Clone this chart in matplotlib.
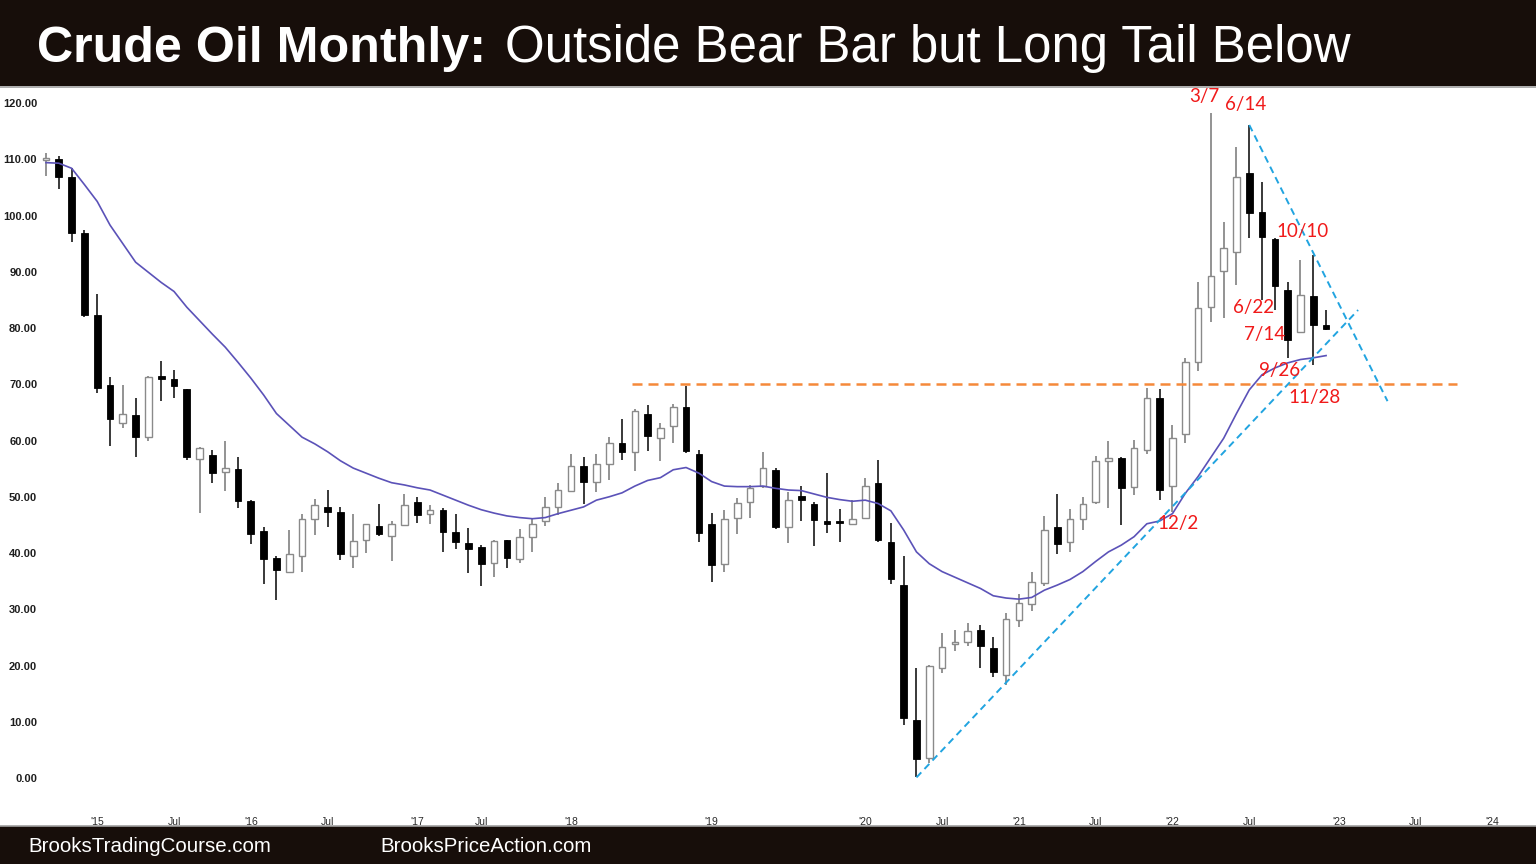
from __future__ import annotations

import matplotlib
import numpy as np

matplotlib.use('Agg')
import matplotlib.pyplot as plt
from matplotlib.lines import Line2D
from matplotlib.patches import Rectangle

# monthly bars, Aug 2014 .. Dec 2022
opens = [
    109.8, 110.1, 106.9, 96.9, 82.3, 69.9, 63.2, 64.5, 60.6, 71.4,
    71.0, 69.1, 56.7, 57.4, 54.4, 55.0, 49.2, 44.0, 39.2, 36.7,
    39.5, 46.0, 48.2, 47.3, 39.5, 42.3, 44.8, 43.0, 45.0, 49.1,
    46.9, 47.7, 43.8, 41.8, 41.1, 38.3, 42.3, 38.9, 42.9, 45.7,
    48.2, 51.0, 55.5, 52.6, 55.9, 59.6, 58.0, 64.7, 60.4, 62.5,
    66.0, 57.6, 45.2, 38.1, 46.3, 49.0, 51.9, 54.8, 44.6, 50.2,
    48.7, 45.7, 45.5, 45.2, 46.3, 52.5, 42.0, 34.4, 10.4, 3.6,
    19.5, 23.8, 24.2, 26.4, 23.2, 18.3, 28.1, 31.0, 34.6, 44.7,
    41.9, 46.1, 49.1, 56.3, 56.9, 51.8, 58.4, 67.5, 51.9, 61.1,
    74.0, 83.8, 90.1, 93.6, 107.6, 100.6, 95.9, 86.8, 79.3, 85.7,
    80.5,
]
highs = [
    111.1, 110.5, 108.5, 97.4, 86.0, 71.3, 69.9, 67.5, 71.4, 74.2,
    72.6, 69.2, 58.8, 58.3, 60.0, 57.0, 49.5, 44.7, 39.5, 44.1,
    46.9, 49.6, 51.2, 48.2, 46.9, 45.2, 48.7, 45.7, 50.5, 50.0,
    48.6, 48.0, 47.0, 44.4, 41.5, 42.4, 42.4, 44.2, 46.0, 49.9,
    52.4, 57.6, 57.0, 57.6, 60.6, 63.8, 65.6, 66.4, 63.1, 66.5,
    69.7, 58.3, 47.1, 47.6, 49.7, 52.1, 58.0, 55.2, 50.9, 52.0,
    49.0, 54.2, 47.9, 49.5, 53.3, 56.6, 45.4, 39.5, 19.5, 20.1,
    25.7, 26.4, 27.6, 27.2, 25.1, 29.3, 32.8, 36.7, 46.5, 50.5,
    47.9, 50.0, 57.2, 59.9, 57.0, 60.1, 69.4, 69.1, 62.8, 74.6,
    88.2, 118.2, 98.8, 112.2, 116.1, 106.0, 96.0, 88.2, 92.1, 93.0,
    83.2,
]
lows = [
    107.0, 104.8, 95.3, 82.0, 68.5, 59.1, 62.2, 57.0, 60.0, 67.1,
    67.5, 56.6, 47.1, 52.5, 51.0, 48.0, 41.6, 34.5, 31.6, 36.4,
    36.7, 43.2, 44.7, 38.8, 37.4, 40.0, 43.0, 38.6, 45.0, 45.4,
    45.2, 40.1, 40.8, 36.4, 34.1, 35.8, 37.3, 38.3, 40.2, 44.8,
    46.7, 50.8, 48.8, 50.9, 52.9, 56.6, 54.5, 58.1, 56.4, 59.5,
    57.7, 42.0, 34.8, 36.7, 43.3, 46.3, 51.5, 44.2, 41.8, 45.7,
    41.3, 43.6, 42.0, 45.0, 46.2, 41.9, 34.5, 9.4, 0.1, 2.7,
    18.6, 22.5, 23.5, 19.6, 17.9, 16.6, 26.8, 29.7, 34.1, 39.8,
    40.2, 44.1, 48.8, 48.0, 45.0, 50.3, 57.6, 49.4, 47.3, 59.5,
    72.3, 81.1, 81.8, 87.6, 96.0, 85.0, 83.2, 74.7, 79.3, 73.4,
    79.6,
]
closes = [
    110.2, 106.8, 96.9, 82.3, 69.3, 63.9, 64.7, 60.6, 71.3, 70.9,
    69.7, 57.0, 58.7, 54.3, 55.1, 49.2, 43.4, 39.0, 36.9, 39.8,
    46.0, 48.5, 47.3, 39.8, 42.2, 45.2, 43.3, 45.2, 48.5, 46.8,
    47.6, 43.8, 41.9, 40.7, 38.1, 42.2, 39.1, 42.9, 45.2, 48.2,
    51.2, 55.5, 52.7, 55.8, 59.5, 58.0, 65.3, 60.8, 62.3, 66.0,
    58.1, 43.6, 37.9, 46.0, 48.9, 51.6, 55.2, 44.6, 49.4, 49.4,
    45.9, 45.2, 45.3, 46.0, 52.0, 42.4, 35.4, 10.7, 3.4, 19.9,
    23.3, 24.2, 26.2, 23.5, 18.9, 28.2, 31.2, 34.9, 44.1, 41.6,
    46.1, 48.8, 56.4, 56.9, 51.6, 58.6, 67.6, 51.2, 60.5, 74.0,
    83.5, 89.2, 94.3, 106.9, 100.4, 96.1, 87.5, 77.9, 85.9, 80.5,
    79.9,
]
ema_20 = [
    109.4, 109.3, 108.4, 105.5, 102.5, 98.3, 95.0, 91.7, 89.9, 88.1,
    86.5, 83.7, 81.3, 78.9, 76.6, 73.9, 71.1, 68.1, 64.8, 62.7,
    60.6, 59.4, 58.0, 56.4, 55.1, 54.2, 53.3, 52.5, 52.1, 51.6,
    51.2, 50.3, 49.4, 48.5, 47.7, 47.1, 46.6, 46.3, 46.1, 46.3,
    47.0, 47.6, 48.2, 49.4, 50.0, 50.7, 51.9, 52.9, 53.4, 54.8,
    55.2, 54.2, 52.7, 51.9, 51.8, 51.8, 51.9, 51.5, 51.2, 51.1,
    50.5, 49.9, 49.5, 49.2, 49.4, 48.8, 47.5, 44.1, 40.2, 38.1,
    36.7, 35.7, 34.7, 33.7, 32.4, 32.0, 31.8, 32.1, 33.4, 34.3,
    35.3, 36.7, 38.5, 40.2, 41.4, 42.9, 45.2, 45.7, 47.0, 50.6,
    53.6, 57.0, 60.4, 64.8, 69.0, 71.7, 72.9, 73.8, 74.4, 74.7,
    75.1,
]

tick_bars = [4, 10, 16, 22, 29, 34, 41, 52, 64, 70, 76, 82, 88, 94, 101, 107, 113]
tick_labels = ["'15", 'Jul', "'16", 'Jul', "'17", 'Jul', "'18", "'19", "'20",
               'Jul', "'21", 'Jul', "'22", 'Jul', "'23", 'Jul', "'24"]
price_ticks = np.arange(0, 121, 10)

resistance_level = 70.0
resistance_span = [45.8, 110.2]
bull_trend_x = [68.0, 102.5]
bull_trend_y = [0.1, 83.2]
bear_trend_x = [94.0, 104.8]
bear_trend_y = [116.1, 67.0]

note_text = ['3/7', '6/14', '10/10', '6/22', '7/14', '9/26', '11/28', '12/2']
note_x = [90.5, 93.75, 98.2, 94.3, 95.2, 96.4, 99.1, 88.4]
note_y = [121.2, 119.8, 97.1, 83.6, 78.9, 72.4, 67.6, 45.3]

WIDTH, HEIGHT = 1536, 864
BAND = '#170e0a'

plt.rcParams['font.family'] = ['Liberation Sans', 'DejaVu Sans']

figure = plt.figure(figsize=(WIDTH / 100, HEIGHT / 100), dpi=100)
axis = figure.add_axes([40 / WIDTH, 1 - 812 / HEIGHT, (WIDTH - 40) / WIDTH, (812 - 88) / HEIGHT])

bars = np.arange(len(opens))
o = np.asarray(opens)
c = np.asarray(closes)
up = c >= o
down = ~up

axis.vlines(bars[up], np.asarray(lows)[up], np.asarray(highs)[up], color='#8a8a8a', linewidth=1.3, zorder=1)
axis.vlines(bars[down], np.asarray(lows)[down], np.asarray(highs)[down], color='#2a2a2a', linewidth=1.3, zorder=1)
axis.bar(bars[up], np.maximum(c - o, 0.35)[up], bottom=o[up], width=0.52,
         color='white', edgecolor='#8a8a8a', linewidth=1.0, zorder=2)
axis.bar(bars[down], np.maximum(o - c, 0.35)[down], bottom=c[down], width=0.52,
         color='black', edgecolor='black', linewidth=0.6, zorder=2)

axis.plot(bars, ema_20, color='#5b52b8', linewidth=1.2, zorder=3)

axis.plot(resistance_span, [resistance_level, resistance_level], color='#f5893a',
          linewidth=1.8, linestyle=(0, (4.0, 2.4)), zorder=3)
axis.plot(bull_trend_x, bull_trend_y, color='#21a4e0', linewidth=1.4, linestyle=(0, (3.6, 2.4)), zorder=3)
axis.plot(bear_trend_x, bear_trend_y, color='#21a4e0', linewidth=1.4, linestyle=(0, (3.6, 2.4)), zorder=3)

for text, x, y in zip(note_text, note_x, note_y):
    axis.text(x, y, text, color='#f01a1a', fontsize=13.5, ha='center', va='center',
              family=['Lato', 'DejaVu Sans'], zorder=4)

axis.set_xlim(-0.47, 116.4)
axis.set_ylim(-6.04, 122.67)
axis.set_yticks(price_ticks)
axis.set_yticklabels([f'{v:.2f}' for v in price_ticks], fontweight='bold', fontsize=8, color='#1e1e1e')
axis.set_xticks(tick_bars)
axis.set_xticklabels(tick_labels, fontsize=7.5, color='#2a2a2a')
axis.tick_params(axis='y', length=0, pad=2.0)
axis.tick_params(axis='x', length=0, pad=3.5)
for spine in axis.spines.values():
    spine.set_visible(False)

# header and footer bands
figure.add_artist(Rectangle((0, 1 - 86 / HEIGHT), 1, 86 / HEIGHT, transform=figure.transFigure,
                            facecolor=BAND, edgecolor='none', zorder=0))
figure.add_artist(Line2D([0, 1], [1 - 87 / HEIGHT] * 2, transform=figure.transFigure, color='#a0a0a0', linewidth=1.2))
figure.add_artist(Rectangle((0, 0), 1, (HEIGHT - 826) / HEIGHT, transform=figure.transFigure,
                            facecolor=BAND, edgecolor='none', zorder=0))
figure.add_artist(Line2D([0, 1], [(HEIGHT - 826) / HEIGHT] * 2, transform=figure.transFigure,
                         color='#a0a0a0', linewidth=1.2))

bold_part = figure.text(37 / WIDTH, 1 - 62 / HEIGHT, 'Crude Oil Monthly:', color='white',
                        fontsize=36.2, fontweight='bold', va='baseline')
figure.canvas.draw()
box = bold_part.get_window_extent()
figure.text((box.x1 + 19) / WIDTH, 1 - 62 / HEIGHT, 'Outside Bear Bar but Long Tail Below',
            color='white', fontsize=36.7, va='baseline')

figure.text(28 / WIDTH, 1 - 846 / HEIGHT, 'BrooksTradingCourse.com', color='white', fontsize=14.8, va='center')
figure.text(380 / WIDTH, 1 - 846 / HEIGHT, 'BrooksPriceAction.com', color='white', fontsize=14.8, va='center')

figure.savefig('out.png', dpi=100, facecolor='white')
plt.close(figure)
